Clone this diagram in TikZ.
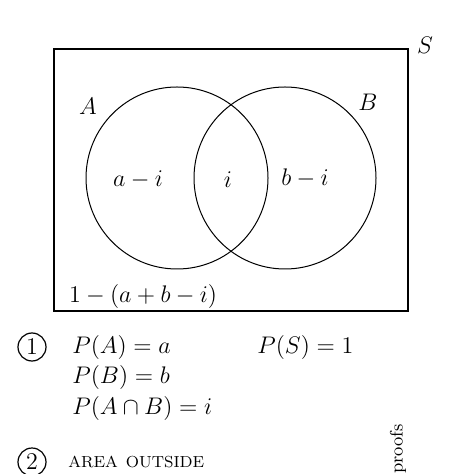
\documentclass[tikz,border=0pt]{standalone}
\usepackage{amsmath}
\usepackage{amssymb}
\usetikzlibrary{positioning}

\begin{document}
\begin{tikzpicture}[
    x=0.5pt, y=-0.5pt,
    font=\large,
    space/.style={rectangle, draw=black, line width=1pt, minimum width=177pt, minimum height=131pt, inner sep=0pt},
    setcircle/.style={circle, draw=black, line width=0.5pt, minimum size=91pt, inner sep=0pt},
    num/.style={circle, draw=black, line width=0.6pt, minimum size=14pt, inner sep=0pt},
    eqn/.style={anchor=west, inner sep=1pt}
]
\useasboundingbox (0,0) rectangle (474,474);
% Sample space
\node[space] (sample) at (231,180) {};
\node (slabel) at (425,45) {$S$};
% Two sets
\node[setcircle] (setA) at (177,178) {};
\node[setcircle] (setB) at (285,178) {};
\node (alabel) at (88,106) {$A$};
\node (blabel) at (368,102) {$B$};
% Regions
\node (onlyA) at (138,180) {$a-i$};
\node (both) at (228,180) {$i$};
\node (onlyB) at (305,178) {$b-i$};
\node (outside) at (143,297) {$1-(a+b-i)$};
% Notes
\node[num] (one) at (32,347) {1};
\node[eqn] (pa) at (70,347) {$P(A) = a$};
\node[eqn] (pb) at (70,377) {$P(B) = b$};
\node[eqn] (pab) at (70,408) {$P(A\cap B) = i$};
\node[eqn] (ps) at (255,347) {$P(S) = 1$};
\node[num] (two) at (32,462) {2};
\node[eqn, font=\footnotesize] (area) at (66,462) {AREA\enspace OUTSIDE};
\node[rotate=90, anchor=east, inner sep=1pt, font=\small] (proofs) at (398,422) {proofs};
\end{tikzpicture}
\end{document}
